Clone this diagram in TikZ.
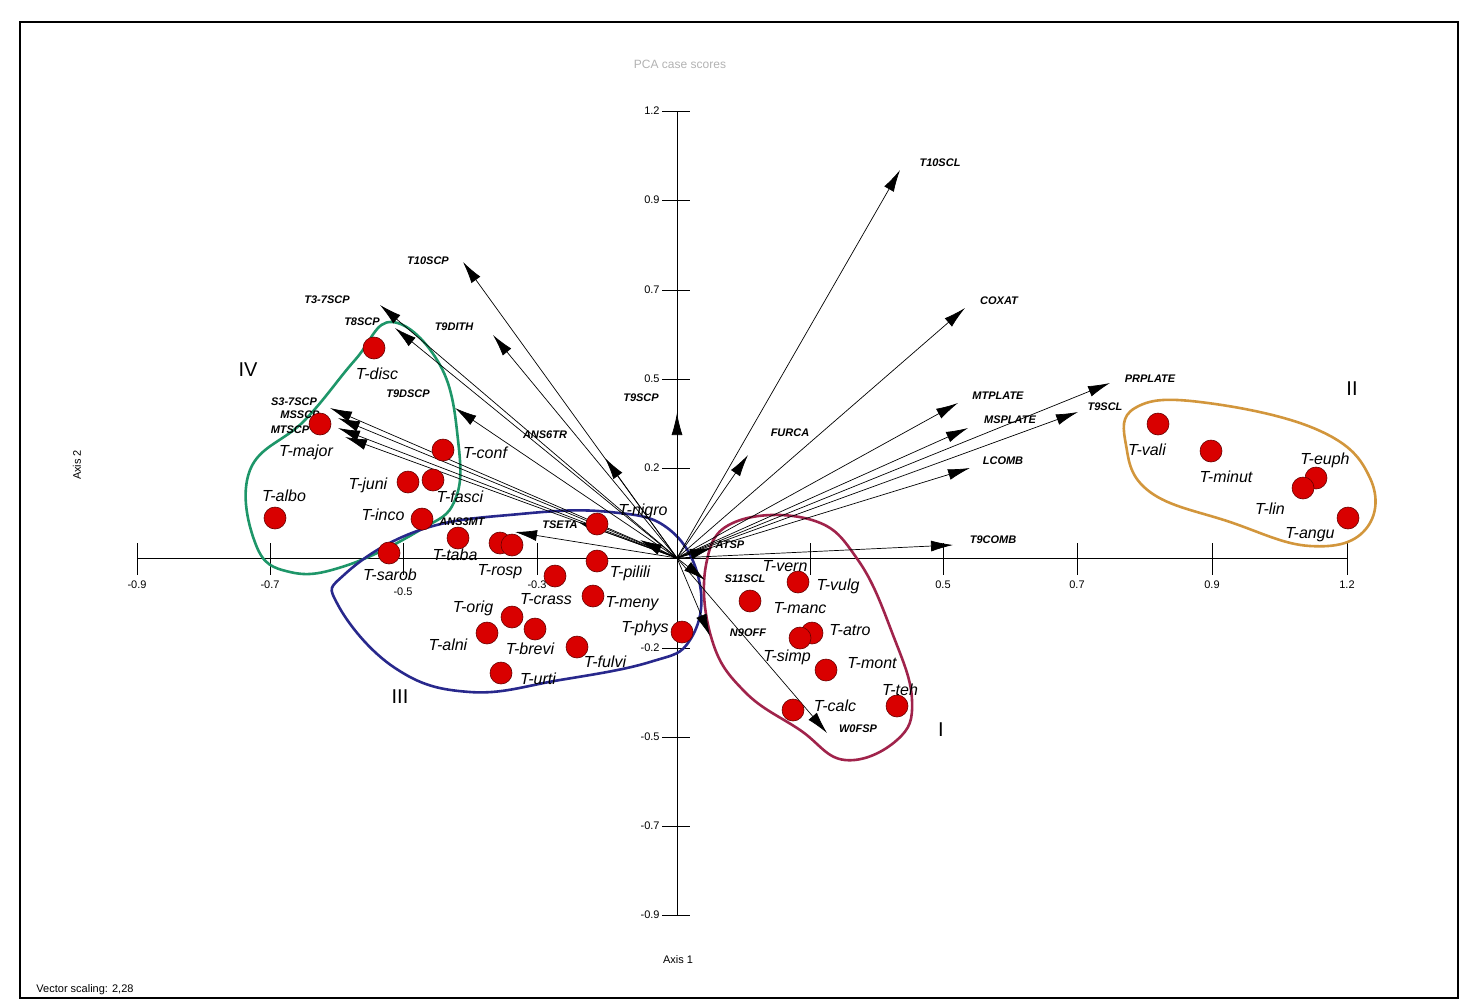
\documentclass[tikz,border=0pt]{standalone}
\usepackage{fontspec}
\setmainfont{Liberation Sans}
\begin{document}
\begin{tikzpicture}[x=0.5pt,y=-0.5pt,
 vec/.style={-{Latex[length=11pt,width=5.5pt]},line width=0.35pt},
 vl/.style={font=\fontsize{5.5}{6}\selectfont\itshape\bfseries,inner sep=0pt},
 sp/.style={font=\fontsize{8}{9}\selectfont\itshape,inner sep=0pt},
 dot/.style={circle,fill=red!85!black,draw=red!40!black,line width=0.3pt,minimum size=11pt,inner sep=0pt},
 tk/.style={font=\fontsize{5.5}{6}\selectfont,inner sep=0pt},
 hull/.style={line width=1.3pt}]
\usetikzlibrary{arrows.meta}
\useasboundingbox (0,0) rectangle (1467,1002);
\draw[line width=1.2pt] (20,22) rectangle (1458,998);
\node[font=\fontsize{6}{7}\selectfont,text=gray!60] (title) at (680,64) {PCA case scores};
\node[tk] (ax1) at (678,960) {Axis 1};
\node[tk,rotate=90] (ax2) at (77,465) {Axis 2};
\node[tk] (vs) at (85,990) {Vector scaling: 2,28};
% axes
\coordinate (O) at (677,558);
\coordinate (xl) at (137,558); \coordinate (xr) at (1347,558);
\coordinate (yt) at (677,111); \coordinate (yb) at (677,915);
\draw[line width=0.5pt] (xl) -- (xr);
\draw[line width=0.5pt] (yt) -- (yb);
\foreach \x/\l/\yy in {137/-0.9/585,270/-0.7/585,403/-0.5/592,537/-0.3/585,943/0.5/585,1077/0.7/585,1212/0.9/585,1347/1.2/585}
 {\draw[line width=0.5pt] (\x,543) -- (\x,575); \node[tk] at (\x,\yy) {\l};}
\draw[line width=0.5pt] (810,543) -- (810,575);
\foreach \y/\l in {111/1.2,200/0.9,290/0.7,379/0.5,468/0.2,648/-0.2,737/-0.5,826/-0.7,915/-0.9}
 {\draw[line width=0.5pt] (662,\y) -- (690,\y); \node[tk,anchor=east] at (660,\y) {\l};}
% hulls
\draw[hull,draw={rgb,255:red,30;green,150;blue,105}] plot[smooth cycle,tension=0.7] coordinates
 {(392,322) (440,365) (458,440) (455,500) (420,530) (345,566) (290,572) (256,545) (250,470) (305,420) (355,360)};
\draw[hull,draw={rgb,255:red,40;green,40;blue,140}] plot[smooth cycle,tension=0.7] coordinates
 {(610,512) (670,530) (700,585) (690,640) (650,662) (560,680) (470,692) (395,668) (338,605) (345,574) (420,530) (520,514)};
\draw[hull,draw={rgb,255:red,160;green,35;blue,75}] plot[smooth cycle,tension=0.7] coordinates
 {(735,522) (812,520) (858,560) (893,635) (912,700) (897,740) (845,760) (800,730) (745,692) (712,640) (706,565)};
\draw[hull,draw={rgb,255:red,210;green,150;blue,60}] plot[smooth cycle,tension=0.7] coordinates
 {(1135,408) (1200,402) (1318,430) (1370,478) (1365,530) (1310,546) (1230,522) (1150,492) (1126,445)};
% vectors
\foreach \n/\x/\y in {T10SCL/900/170,COXAT/965/308,PRPLATE/1110/383,T9SCL/1078/412,MTPLATE/958/403,MSPLATE/968/428,LCOMB/970/468,T9COMB/953/545,FURCA/748/455,T9SCP/677/413,T10SCP/463/262,T37SCP/380/305,T8SCP/395/328,T9DITH/493/335,T9DSCP/455/408,S37SCP/330/408,MSSCP/338/418,MTSCP/338/428,TMAJ/345/437,ANS6TR/605/458,ANS3MT/515/532,TSETA/578/522,NIG/640/540,ATSP/712/548,S11SCL/705/580,N9OFF/710/636,W0FSP/827/733}
 {\coordinate (v\n) at (\x,\y); \draw[vec] (O) -- (v\n);}
\node[vl] (lT10SCL) at (940,163) {T10SCL};
\node[vl] (lCOXAT) at (999,301) {COXAT};
\node[vl] (lPRPLATE) at (1150,379) {PRPLATE};
\node[vl] (lT9SCL) at (1105,407) {T9SCL};
\node[vl] (lMTPLATE) at (998,396) {MTPLATE};
\node[vl] (lMSPLATE) at (1010,420) {MSPLATE};
\node[vl] (lLCOMB) at (1003,461) {LCOMB};
\node[vl] (lT9COMB) at (993,540) {T9COMB};
\node[vl] (lFURCA) at (790,433) {FURCA};
\node[vl] (lT9SCP) at (641,398) {T9SCP};
\node[vl] (lT10SCP) at (428,261) {T10SCP};
\node[vl] (lT37SCP) at (327,300) {T3-7SCP};
\node[vl] (lT8SCP) at (362,322) {T8SCP};
\node[vl] (lT9DITH) at (454,327) {T9DITH};
\node[vl] (lT9DSCP) at (408,394) {T9DSCP};
\node[vl] (lS37SCP) at (294,402) {S3-7SCP};
\node[vl] (lMSSCP) at (300,415) {MSSCP};
\node[vl] (lMTSCP) at (290,430) {MTSCP};
\node[vl] (lANS6TR) at (545,435) {ANS6TR};
\node[vl] (lANS3MT) at (462,522) {ANS3MT};
\node[vl] (lTSETA) at (560,525) {TSETA};
\node[vl] (lATSP) at (730,545) {ATSP};
\node[vl] (lS11SCL) at (745,579) {S11SCL};
\node[vl] (lN9OFF) at (748,633) {N9OFF};
\node[vl] (lW0FSP) at (858,729) {W0FSP};
% species
\foreach \n/\x/\y in {vali/1158/424,minut/1211/451,euph/1316/478,euphb/1303/488,angu/1348/518,disc/374/348,major/320/424,conf/443/450,juni/408/482,fasci/433/480,albo/275/518,inco/422/519,sarob/389/553,taba/458/538,roa/500/543,rob/512/545,nigro/597/524,pilili/597/561,crass/555/576,meny/593/596,orig/512/617,alni/487/633,brevi/535/629,fulvi/577/647,urti/501/673,phys/682/632,vulg/798/582,manc/750/601,atro/812/633,simp/800/638,mont/826/670,calc/793/710,teh/897/706}
 {\node[dot] (d\n) at (\x,\y) {};}
\node[sp] (tvali) at (1147,450) {T-vali};
\node[sp] (tminut) at (1226,477) {T-minut};
\node[sp] (teuph) at (1325,460) {T-euph};
\node[sp] (tlin) at (1270,509) {T-lin};
\node[sp] (tangu) at (1310,535) {T-angu};
\node[sp] (tdisc) at (377,374) {T-disc};
\node[sp] (tmajor) at (306,452) {T-major};
\node[sp] (tconf) at (485,453) {T-conf};
\node[sp] (tjuni) at (368,485) {T-juni};
\node[sp] (tfasci) at (460,497) {T-fasci};
\node[sp] (talbo) at (284,496) {T-albo};
\node[sp] (tinco) at (383,515) {T-inco};
\node[sp] (tsarob) at (390,575) {T-sarob};
\node[sp] (ttaba) at (455,555) {T-taba};
\node[sp] (trosp) at (500,572) {T-rosp};
\node[sp] (tnigro) at (643,511) {T-nigro};
\node[sp] (tpilili) at (630,573) {T-pilili};
\node[sp] (tcrass) at (546,599) {T-crass};
\node[sp] (tmeny) at (632,604) {T-meny};
\node[sp] (torig) at (473,608) {T-orig};
\node[sp] (talni) at (448,645) {T-alni};
\node[sp] (tbrevi) at (530,649) {T-brevi};
\node[sp] (tfulvi) at (605,662) {T-fulvi};
\node[sp] (turti) at (538,679) {T-urti};
\node[sp] (tphys) at (645,628) {T-phys};
\node[sp] (tvern) at (785,566) {T-vern};
\node[sp] (tvulg) at (838,586) {T-vulg};
\node[sp] (tmanc) at (800,608) {T-manc};
\node[sp] (tatro) at (850,630) {T-atro};
\node[sp] (tsimp) at (787,657) {T-simp};
\node[sp] (tmont) at (872,663) {T-mont};
\node[sp] (tcalc) at (835,706) {T-calc};
\node[sp] (tteh) at (900,690) {T-teh};
% group labels
\node[font=\fontsize{10}{11}\selectfont] (gIV) at (248,370) {IV};
\node[font=\fontsize{10}{11}\selectfont] (gII) at (1352,389) {II};
\node[font=\fontsize{10}{11}\selectfont] (gIII) at (400,697) {III};
\node[font=\fontsize{10}{11}\selectfont] (gI) at (941,730) {I};
\end{tikzpicture}
\end{document}
